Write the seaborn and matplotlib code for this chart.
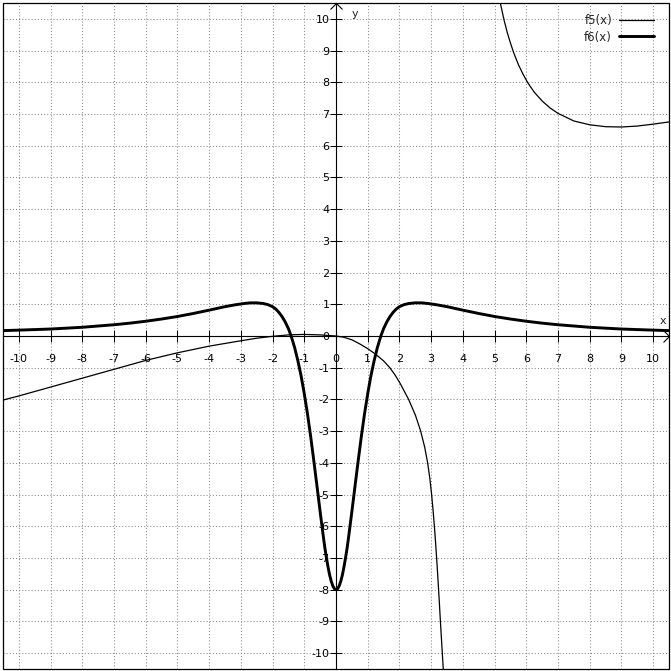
import matplotlib
matplotlib.use("Agg")
import matplotlib.pyplot as plt
import pandas as pd
import seaborn as sns
from matplotlib.lines import Line2D
from matplotlib.path import Path
from matplotlib.patches import Rectangle

# ---------------- data ----------------
f5_left_x = [-10.5, -10, -9, -8, -7, -6, -5, -4, -3, -2.5, -2, -1.5, -1, -0.5, 0,
             0.25, 0.5, 0.75, 1.0, 1.25, 1.5, 1.68, 1.85, 2.02, 2.29, 2.505, 2.67, 2.795,
             2.89, 2.96, 3.015, 3.061, 3.102, 3.139, 3.173, 3.205, 3.235, 3.264, 3.292,
             3.322, 3.352, 3.382, 3.412]
f5_left_y = [-2.02, -1.89, -1.61, -1.33, -1.05, -0.77, -0.53, -0.32, -0.15, -0.07, -0.01,
             0.035, 0.05, 0.035, 0.0, -0.04, -0.12, -0.25, -0.40, -0.575, -0.785, -0.98,
             -1.21, -1.49, -2.0, -2.5, -3.0, -3.5, -4.0, -4.5, -5.0, -5.5, -6.0, -6.5,
             -7.0, -7.5, -8.0, -8.5, -9.0, -9.5, -10.0, -10.5, -11.0]

f5_right_x = [5.15, 5.2, 5.3, 5.4, 5.5, 5.6, 5.75, 5.9, 6.05, 6.25, 6.5, 6.75, 7.0, 7.5,
              8.0, 8.5, 9.0, 9.5, 10.0, 10.5]
f5_right_y = [10.66, 10.41, 9.96, 9.57, 9.24, 8.94, 8.56, 8.25, 7.98, 7.69, 7.41, 7.19,
              7.02, 6.78, 6.66, 6.60, 6.59, 6.62, 6.68, 6.75]

f6_x = [-10.5, -10, -9, -8, -7, -6.5, -6, -5.5, -5, -4.5, -4, -3.5, -3.2, -2.9, -2.7,
        -2.5, -2.3, -2.15, -2.0, -1.9, -1.8, -1.7, -1.6, -1.5, -1.414, -1.3, -1.2, -1.1,
        -1.0, -0.9, -0.8, -0.7, -0.6, -0.5, -0.4, -0.35, -0.3, -0.25, -0.2, -0.15, -0.1,
        -0.05, 0,
        0.05, 0.1, 0.15, 0.2, 0.25, 0.3, 0.35, 0.4, 0.5, 0.6, 0.7, 0.8, 0.9, 1.0, 1.1,
        1.2, 1.3, 1.414, 1.5, 1.6, 1.7, 1.8, 1.9, 2.0, 2.15, 2.3, 2.5, 2.7, 2.9, 3.2,
        3.5, 4, 4.5, 5, 5.5, 6, 6.5, 7, 8, 9, 10, 10.5]
f6_y = [0.17, 0.185, 0.22, 0.275, 0.355, 0.405, 0.465, 0.535, 0.615, 0.71, 0.815, 0.925,
        0.98, 1.025, 1.045, 1.045, 1.025, 0.99, 0.925, 0.85, 0.745, 0.61, 0.44, 0.23,
        0.0, -0.38, -0.79, -1.26, -1.82, -2.45, -3.16, -3.93, -4.73, -5.54, -6.32, -6.69,
        -7.0, -7.29, -7.54, -7.735, -7.88, -7.97, -8.0,
        -7.97, -7.88, -7.735, -7.54, -7.29, -7.0, -6.69, -6.32, -5.54, -4.73, -3.93,
        -3.16, -2.45, -1.82, -1.26, -0.79, -0.38, 0.0, 0.23, 0.44, 0.61, 0.745, 0.85,
        0.925, 0.99, 1.025, 1.045, 1.045, 1.025, 0.98, 0.925, 0.815, 0.71, 0.615, 0.535,
        0.465, 0.405, 0.355, 0.275, 0.22, 0.185, 0.17]

x_ticks = [-10, -9, -8, -7, -6, -5, -4, -3, -2, -1, 0, 1, 2, 3, 4, 5, 6, 7, 8, 9, 10]
y_ticks = [-10, -9, -8, -7, -6, -5, -4, -3, -2, -1, 0, 1, 2, 3, 4, 5, 6, 7, 8, 9, 10]
x_tick_labels = [str(t) for t in x_ticks]
y_tick_labels = [str(t) for t in y_ticks]
series_labels = ["f5(x)", "f6(x)"]
axis_labels = ["x", "y"]

# ---------------- style ----------------
sns.set_style("white")
plt.rcParams["font.family"] = ["DejaVu Sans"]
plt.rcParams["axes.unicode_minus"] = False

fig = plt.figure(figsize=(6.71, 6.71), dpi=100)
ax = fig.add_axes([3 / 671, 2 / 671, 666 / 671, 666 / 671])
ax.set_facecolor("white")

df5 = pd.DataFrame({
    "x": f5_left_x + f5_right_x,
    "y": f5_left_y + f5_right_y,
    "branch": ["left"] * len(f5_left_x) + ["right"] * len(f5_right_x),
})
df6 = pd.DataFrame({"x": f6_x, "y": f6_y})

sns.lineplot(data=df5, x="x", y="y", units="branch", estimator=None, sort=False,
             color="black", linewidth=0.9, ax=ax, zorder=3)
sns.lineplot(data=df6, x="x", y="y", estimator=None, sort=False,
             color="black", linewidth=2.1, ax=ax, zorder=4)

ax.set_xlim(-10.5, 10.5)
ax.set_ylim(-10.5, 10.5)
ax.set_xlabel("")
ax.set_ylabel("")

# axes through origin
ax.spines["left"].set_position(("data", 0))
ax.spines["bottom"].set_position(("data", 0))
ax.spines["top"].set_visible(False)
ax.spines["right"].set_visible(False)
for s in ("left", "bottom"):
    ax.spines[s].set_color("black")
    ax.spines[s].set_linewidth(0.8)
    ax.spines[s].set_zorder(5)

ax.set_xticks(x_ticks)
ax.set_xticklabels(x_tick_labels)
ax.set_yticks(y_ticks)
ax.set_yticklabels(y_tick_labels)
ax.tick_params(axis="both", which="major", direction="inout", length=8.6, width=0.75,
               colors="black", labelsize=8, bottom=True, left=True)
ax.tick_params(axis="x", pad=9)
ax.tick_params(axis="y", pad=0.5)

ax.set_axisbelow(True)
ax.grid(True, color="#8a8a8a", linestyle=(0, (1, 2)), linewidth=0.75)

# outer frame
ax.add_patch(Rectangle((0, 0), 1, 1, transform=ax.transAxes, fill=False,
                       edgecolor="black", linewidth=0.9, clip_on=False, zorder=6))

# axis arrows (open chevrons)
chev_right = Path([(-1, 1), (0, 0), (-1, -1)], [Path.MOVETO, Path.LINETO, Path.LINETO])
chev_up = Path([(-1, -1), (0, 0), (1, -1)], [Path.MOVETO, Path.LINETO, Path.LINETO])
ax.plot([1], [0], transform=ax.get_yaxis_transform(), marker=chev_right, markersize=8.6,
        markerfacecolor="none", markeredgecolor="black", markeredgewidth=0.8,
        linestyle="none", clip_on=False, zorder=7)
ax.plot([0], [1], transform=ax.get_xaxis_transform(), marker=chev_up, markersize=8.6,
        markerfacecolor="none", markeredgecolor="black", markeredgewidth=0.8,
        linestyle="none", clip_on=False, zorder=7)

ax.text(0.991, 0.522, axis_labels[0], transform=ax.transAxes, ha="center", va="center",
        fontsize=8)
ax.text(0.529, 0.983, axis_labels[1], transform=ax.transAxes, ha="center", va="center",
        fontsize=8)

handles = [Line2D([], [], color="black", linewidth=0.9),
           Line2D([], [], color="black", linewidth=2.1)]
ax.legend(handles, series_labels, loc="upper right", bbox_to_anchor=(0.9775, 0.984),
          frameon=False, markerfirst=False, fontsize=8.5, handlelength=2.95,
          handletextpad=0.6, labelspacing=0.33, borderpad=0, borderaxespad=0)

fig.savefig("out.png", dpi=100)
